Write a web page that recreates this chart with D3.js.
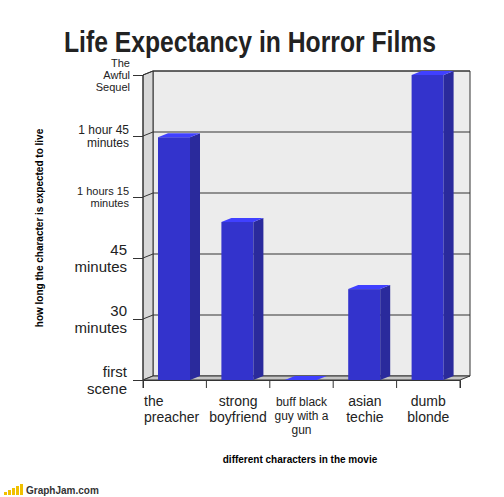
<!DOCTYPE html><html><head><meta charset="utf-8"><script src="https://cdn.jsdelivr.net/npm/d3@7"></script>
<style>body{margin:0;background:#fff}</style></head><body><svg id="c" width="504" height="497"></svg>
<script>
const categories=[["the","preacher"],["strong","boyfriend"],["buff black","guy with a","gun"],["asian","techie"],["dumb","blonde"]];
const values=[3.98,2.59,0,1.49,5.0];
const tickLabels=[["first","scene"],["30","minutes"],["45","minutes"],["1 hours 15","minutes"],["1 hour 45","minutes"],["The","Awful","Sequel"]];
const tickSizes=[15,15,15,11,12,11];
const svg=d3.select("#c");
const L=143,R=460,B=380,T=75,dx=10,dy=-4;
const x=d3.scaleBand().domain(d3.range(categories.length)).range([L,R]);
const y=d3.scaleLinear().domain([0,5]).range([B,T]);
// walls
svg.append("path").attr("d",`M${L+dx},${T+dy}H${R+dx}V${B+dy}H${L+dx}Z`).attr("fill","#ececec").attr("stroke","#333");
svg.append("path").attr("d",`M${L},${T}L${L+dx},${T+dy}V${B+dy}L${L},${B}Z`).attr("fill","#d8d8d8").attr("stroke","#333");
svg.append("path").attr("d",`M${L},${B}L${L+dx},${B+dy}H${R+dx}L${R},${B}Z`).attr("fill","#c4c4c4").attr("stroke","#333");
d3.range(1,6).forEach(v=>{svg.append("path").attr("d",`M${L},${y(v)}L${L+dx},${y(v)+dy}H${R+dx}`).attr("fill","none").attr("stroke","#333");});
// bars
const bw=32,off=15;
values.forEach((v,i)=>{const x0=x(i)+off,x1=x0+bw,yt=y(v);
 const g=svg.append("g");
 if(v>0){
 g.append("rect").attr("x",x0).attr("y",yt).attr("width",bw).attr("height",B-yt).attr("fill","#3333cc");
 g.append("path").attr("d",`M${x1},${yt}L${x1+dx},${yt+dy}V${B+dy}L${x1},${B}Z`).attr("fill","#2a2a9c");}
 g.append("path").attr("d",`M${x0},${yt}L${x0+dx},${yt+dy}H${x1+dx}L${x1},${yt}Z`).attr("fill","#4040ff");
});
// axes
const ya=svg.append("g").attr("transform",`translate(${L},0)`).call(d3.axisLeft(y).ticks(5).tickSize(10).tickFormat(""));
const xa=svg.append("g").attr("transform",`translate(0,${B})`).call(d3.axisBottom(x).tickSize(8).tickFormat(""));
[ya,xa].forEach(a=>{a.selectAll("path,line").attr("stroke","#333");});
xa.selectAll(".tick").remove();
d3.range(categories.length+1).forEach(i=>{const xx=i<categories.length?x(i):R;xa.append("line").attr("x1",xx).attr("x2",xx).attr("y1",0).attr("y2",8).attr("stroke","#333");});
ya.select(".domain").attr("d",`M0,${T}V${B}`);
// y labels
tickLabels.forEach((lines,i)=>{const fs=tickSizes[i],lh=fs*1.1;const t=svg.append("text").attr("text-anchor","end").attr("font-family","Liberation Sans, Arial").attr("font-size",fs).attr("fill","#222");
 const n=lines.length,y0=y(i)-(n-1)*lh/2+fs*0.35;
 lines.forEach((s,j)=>t.append("tspan").attr("x",i==5?130:i<3?127:129).attr("y",y0+j*lh).text(s));});
// x labels
categories.forEach((lines,i)=>{const t=svg.append("text").attr("font-family","Liberation Sans, Arial").attr("fill","#222");
 const first=i==0;const fs=i==2?12:14;t.attr("font-size",fs).attr("text-anchor",first?"start":"middle");
 lines.forEach((s,j)=>t.append("tspan").attr("x",first?x(i)+1:x(i)+x.bandwidth()/2).attr("y",B+26+j*(fs+2)).text(s));});
svg.append("text").attr("x",300).attr("y",463).attr("text-anchor","middle").attr("font-family","Liberation Sans, Arial").attr("font-weight","bold").attr("font-size",10).text("different characters in the movie");
svg.append("text").attr("transform","translate(43,228) rotate(-90)").attr("text-anchor","middle").attr("font-family","Liberation Sans, Arial").attr("font-weight","bold").attr("font-size",10).text("how long the character is expected to live");
svg.append("text").attr("x",250).attr("y",52).attr("text-anchor","middle").attr("font-family","Liberation Sans Narrow, Liberation Sans, Arial").attr("font-weight","bold").attr("font-size",29).attr("textLength",372).attr("lengthAdjust","spacingAndGlyphs").attr("fill","#222").text("Life Expectancy in Horror Films");
// footer
const f=svg.append("g");
[3,5,7,9,11].forEach((h,i)=>f.append("rect").attr("x",4+i*4).attr("y",495-h).attr("width",3).attr("height",h).attr("fill","#f0c000"));
f.append("text").attr("x",26).attr("y",494).attr("font-family","Liberation Sans, Arial").attr("font-weight","bold").attr("font-size",10).attr("fill","#333").text("GraphJam.com");
</script></body></html>
